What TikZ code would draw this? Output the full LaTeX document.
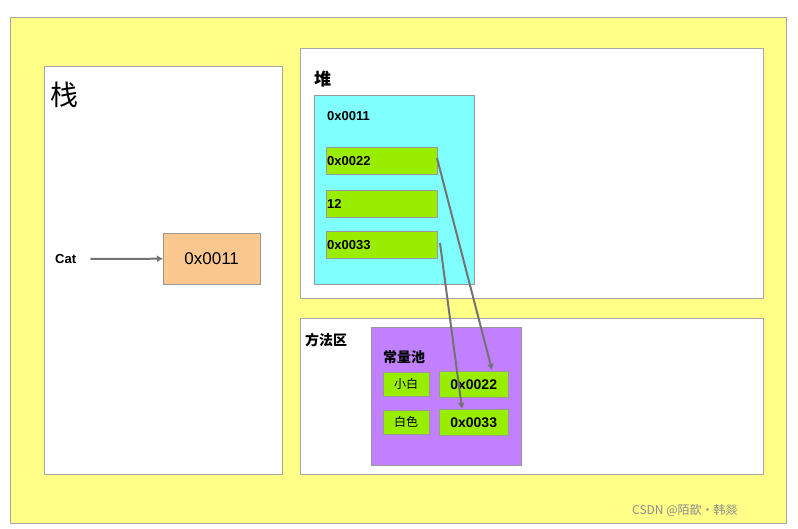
\documentclass[tikz,border=0pt]{standalone}
\usepackage{fontspec}
\setmainfont{Liberation Sans}
\newfontfamily\cjk{Noto Sans CJK SC}
\begin{document}
\begin{tikzpicture}[x=1pt,y=-1pt,
  region/.style={draw=gray!70,fill=white},
  cell/.style={draw=gray!80,fill=green!60!yellow!90!black,inner sep=0},
  lbl/.style={font=\bfseries\fontsize{13}{13}\selectfont,anchor=west,inner sep=0},
  ptr/.style={draw=gray!90!black,line width=2pt,-{Latex[length=6pt,width=7pt]}}]
\usetikzlibrary{arrows.meta}
\useasboundingbox (0,0) rectangle (798,529);
\definecolor{yel}{HTML}{FFFF88}
\definecolor{gr}{HTML}{99EE00}
\filldraw[draw=gray!70,fill=yel] (10,17) rectangle (786,523);
% stack
\node[region,minimum width=238,minimum height=408,anchor=north west] (stack) at (44,66) {};
\node[anchor=west,inner sep=0] (stt) at (50,95) {\cjk\fontsize{28}{28}\selectfont 栈};
\node[lbl] (cat) at (55,259) {Cat};
\node[draw=gray!80,fill={rgb,255:red,250;green,200;blue,143},minimum width=97,minimum height=51,anchor=north west,font=\fontsize{17}{17}\selectfont] (ref) at (163,233) {0x0011};
\draw[ptr] (cat.east)++(14,0) coordinate (c1) (c1) -- (ref.west);
% heap
\node[region,minimum width=463,minimum height=250,anchor=north west] (heap) at (300,48) {};
\node[anchor=west,inner sep=0,font=\cjk\bfseries\fontsize{17}{17}\selectfont] (heapt) at (314,79) {\cjk 堆};
\node[draw=gray!80,fill={rgb,255:red,128;green,255;blue,255},minimum width=160,minimum height=189,anchor=north west] (obj) at (314,95) {};
\node[lbl] (addr) at (327,116) {0x0011};
\node[cell,fill=gr,minimum width=111,minimum height=27,anchor=north west] (f1) at (326,147) {};
\node[lbl] at (327,161) {0x0022};
\node[cell,fill=gr,minimum width=111,minimum height=27,anchor=north west] (f2) at (326,190) {};
\node[lbl] at (327,204) {12};
\node[cell,fill=gr,minimum width=111,minimum height=27,anchor=north west] (f3) at (326,231) {};
\node[lbl] at (327,245) {0x0033};
% method area
\node[region,minimum width=463,minimum height=156,anchor=north west] (meth) at (300,318) {};
\node[anchor=west,inner sep=0] (metht) at (305,340) {\cjk\bfseries\fontsize{14}{14}\selectfont 方法区};
\node[draw=gray!80,fill={rgb,255:red,192;green,128;blue,255},minimum width=150,minimum height=138,anchor=north west] (pool) at (371,327) {};
\node[anchor=west,inner sep=0] (poolt) at (383,357) {\cjk\bfseries\fontsize{14}{14}\selectfont 常量池};
\node[cell,fill=gr,minimum width=46,minimum height=24,anchor=north west,font=\cjk\fontsize{12}{12}\selectfont] (s1) at (383,372) {小白};
\node[cell,fill=gr,minimum width=69,minimum height=26,anchor=north west,font=\bfseries\fontsize{14}{14}\selectfont] (s2) at (439,371) {0x0022};
\node[cell,fill=gr,minimum width=46,minimum height=24,anchor=north west,font=\cjk\fontsize{12}{12}\selectfont] (s3) at (383,410) {白色};
\node[cell,fill=gr,minimum width=69,minimum height=26,anchor=north west,font=\bfseries\fontsize{14}{14}\selectfont] (s4) at (439,409) {0x0033};
\coordinate (a1) at (437,158);
\coordinate (b1) at (492,370);
\coordinate (a2) at (440,243);
\coordinate (b2) at (462,409);
\draw[ptr] (a1) -- (b1);
\draw[ptr] (a2) -- (b2);
\node[anchor=west,inner sep=0,text=gray!90] (wm) at (632,510) {\cjk\fontsize{12}{12}\selectfont CSDN @陌歆·韩燚};
\end{tikzpicture}
\end{document}
